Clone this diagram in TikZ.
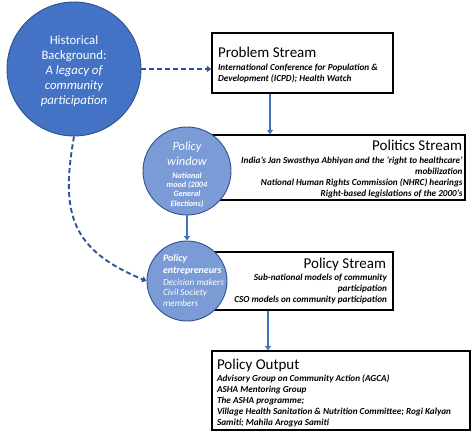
\documentclass[tikz,border=0pt]{standalone}
\usepackage{fontspec}
\setmainfont{Carlito}
\usetikzlibrary{arrows.meta}
\definecolor{bigblue}{RGB}{68,114,196}
\definecolor{lightblue}{RGB}{122,155,214}
\definecolor{edgeblue}{RGB}{47,82,143}
\definecolor{arrowblue}{RGB}{68,114,196}
\definecolor{dashblue}{RGB}{47,85,151}
\tikzset{
  streambox/.style={draw=black, line width=1.3pt, fill=white, inner sep=0pt},
  bigcirc/.style={circle, draw=edgeblue, line width=0.9pt, fill=bigblue, inner sep=0pt, minimum size=134pt},
  smallcirc/.style={circle, draw=edgeblue, line width=0.9pt, fill=lightblue, inner sep=0pt},
  solidarrow/.style={draw=arrowblue, line width=1.5pt, -{Triangle[length=4.5pt,width=6pt]}},
  dasharrow/.style={draw=dashblue, line width=1.9pt, dash pattern=on 5pt off 3pt, -{Triangle[length=4.5pt,width=6pt]}},
  ln/.style={inner sep=0pt, outer sep=0pt},
  ttl/.style={ln, font=\fontsize{15}{16}\selectfont},
  sub/.style={ln, font=\fontsize{9.2}{11}\selectfont\bfseries\itshape},
  histtxt/.style={ln, text=white, font=\fontsize{12.8}{15}\selectfont},
  histit/.style={ln, text=white, font=\fontsize{12.8}{15}\selectfont\itshape},
  wintxt/.style={ln, text=white, font=\fontsize{12.4}{15}\selectfont\itshape},
  winsub/.style={ln, text=white, font=\fontsize{8.2}{10}\selectfont\bfseries\itshape},
  enttxt/.style={ln, text=white, font=\fontsize{10}{11}\selectfont\bfseries\itshape},
  entsub/.style={ln, text=white, font=\fontsize{9.3}{11}\selectfont\itshape}
}
\begin{document}
\begin{tikzpicture}[x=1pt,y=-1pt]
\useasboundingbox (0,0) rectangle (474,434);
% boxes
\node[streambox, minimum width=181pt, minimum height=60pt] (prob) at (302.5,63) {};
\node[streambox, minimum width=255pt, minimum height=65pt] (pol) at (337.5,167.5) {};
\node[streambox, minimum width=178pt, minimum height=58pt] (pstr) at (304,281) {};
\node[streambox, minimum width=258pt, minimum height=79pt] (out) at (341,390.5) {};
% problem stream
\node[ttl, anchor=base west] (t1) at (218,57) {Problem Stream};
\node[sub, anchor=base west] (s1a) at (218,70) {International Conference for Population \&};
\node[sub, anchor=base west] (s1b) at (218,81) {Development (ICPD); Health Watch};
% politics stream
\node[ttl, anchor=base east] (t2) at (462,150) {Politics Stream};
\node[sub, anchor=base east] (s2a) at (462.5,163.3) {India’s Jan Swasthya Abhiyan and the ‘right to healthcare’};
\node[sub, anchor=base east] (s2b) at (462.5,174.3) {mobilization};
\node[sub, anchor=base east] (s2c) at (462.5,185.3) {National Human Rights Commission (NHRC) hearings};
\node[sub, anchor=base east] (s2d) at (462.5,196.3) {Right-based legislations of the 2000’s};
% policy stream
\node[ttl, anchor=base east] (t3) at (386,268.5) {Policy Stream};
\node[sub, anchor=base east] (s3a) at (387,280.7) {Sub-national models of community};
\node[sub, anchor=base east] (s3b) at (387,291.7) {participation};
\node[sub, anchor=base east] (s3c) at (387,302.7) {CSO models on community participation};
% policy output
\node[ttl, anchor=base west] (t4) at (217,369) {Policy Output};
\node[sub, anchor=base west] (s4a) at (217,381) {Advisory Group on Community Action (AGCA)};
\node[sub, anchor=base west] (s4b) at (217,392) {ASHA Mentoring Group};
\node[sub, anchor=base west] (s4c) at (217,403) {The ASHA programme;};
\node[sub, anchor=base west] (s4d) at (217,414) {Village Health Sanitation \& Nutrition Committee; Rogi Kalyan};
\node[sub, anchor=base west] (s4e) at (217,425) {Samiti; Mahila Arogya Samiti};
% big circle
\node[bigcirc] (hist) at (74,69) {};
\node[histtxt, anchor=base] (h1) at (74,44.5) {Historical};
\node[histtxt, anchor=base] (h2) at (74,59) {Background:};
\node[histit, anchor=base] (h3) at (74,74) {A legacy of};
\node[histit, anchor=base] (h4) at (74,89) {community};
\node[histit, anchor=base] (h5) at (74,104) {participation};
% policy window
\node[smallcirc, minimum size=88pt] (win) at (187,171) {};
\node[wintxt, anchor=base] (w1) at (187,150) {Policy};
\node[wintxt, anchor=base] (w2) at (187,165.5) {window};
\node[winsub, anchor=base] (w3) at (187,178) {National};
\node[winsub, anchor=base] (w4) at (187,187.3) {mood (2004};
\node[winsub, anchor=base] (w5) at (187,196.5) {General};
\node[winsub, anchor=base] (w6) at (187,206) {Elections)};
% policy entrepreneurs
\node[smallcirc, minimum size=80pt] (ent) at (187,281) {};
\node[enttxt, anchor=base west] (e1) at (163,261) {Policy};
\node[enttxt, anchor=base west] (e2) at (163,273.5) {entrepreneurs};
\node[entsub, anchor=base west] (e3) at (163,285) {Decision makers};
\node[entsub, anchor=base west] (e4) at (163,295.7) {Civil Society};
\node[entsub, anchor=base west] (e5) at (163,306.5) {members};
% connectors
\draw[dasharrow] (hist.east) -- (hist.east -| prob.west);
\draw[solidarrow] (prob.south -| 270,0) -- (pol.north -| 270,0);
\draw[solidarrow] (win.south) -- (ent.north);
\draw[solidarrow] (pstr.south -| 268,0) -- (out.north -| 268,0);
\draw[dasharrow] (hist.south) .. controls (60,215) and (72,250) .. (ent.west);
\end{tikzpicture}
\end{document}
